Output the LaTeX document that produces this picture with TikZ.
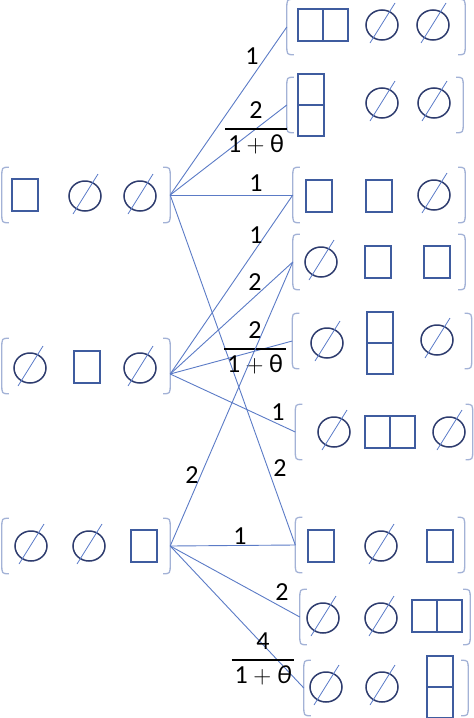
\documentclass[tikz,border=0pt]{standalone}
\usepackage{amsmath}
\usepackage{fontspec}
\setmainfont{Carlito}
\usetikzlibrary{positioning}
\definecolor{navy}{HTML}{2E3C6E}
\definecolor{slashblue}{HTML}{5A7BC8}
\definecolor{boxblue}{HTML}{3F5C9F}
\definecolor{brkgray}{HTML}{A3B2D6}
\definecolor{edgeblue}{HTML}{5B7BC6}
\newcommand\brk[1]{%
    \draw[bracket] ([xshift=7pt]#1.north west) .. controls (#1.north west) .. ([yshift=-10pt]#1.north west) -- ([yshift=10pt]#1.south west) .. controls (#1.south west) .. ([xshift=7pt]#1.south west);
    \draw[bracket] ([xshift=-7pt]#1.north east) .. controls (#1.north east) .. ([yshift=-10pt]#1.north east) -- ([yshift=10pt]#1.south east) .. controls (#1.south east) .. ([xshift=-7pt]#1.south east);}
\newcommand\wfrac[2]{\genfrac{}{}{1.6pt}{0}{\text{#1}}{\hspace{3pt}\text{1}+#2\hspace{3pt}}}

\begin{document}
\begin{tikzpicture}
[
    x=1pt, y=-1pt,
    state/.style={minimum width=#1, minimum height=55pt, inner sep=0pt},
    bracket/.style={draw=brkgray, line width=1.3pt},
    edge/.style={draw=edgeblue, line width=0.9pt},
    lbl/.style={inner sep=0pt, font=\fontsize{26}{30}\selectfont},
    nul/.pic={\draw[navy, line width=1.5pt] (0,0) ellipse [x radius=16pt, y radius=15pt];
              \draw[slashblue, line width=0.8pt] (-12,18) -- (13,-22);},
    box/.pic={\draw[boxblue, line width=1.6pt] (-13,-16) rectangle (13,16);},
    hdom/.pic={\draw[boxblue, line width=1.6pt] (-25,-16) rectangle (25,16) (0,-16) -- (0,16);},
    vdom/.pic={\draw[boxblue, line width=1.6pt] (-13,-31) rectangle (13,31) (-13,0) -- (13,0);},
]
    \useasboundingbox (0,0) rectangle (474,718);

    \node[state=168pt] (l1) at (86,195) {};
    \node[state=168pt] (l2) at (86,366) {};
    \node[state=168pt] (l3) at (86,546) {};
    \node[state=178pt] (r1) at (376,27) {};
    \node[state=176pt] (r2) at (375,105) {};
    \node[state=172pt] (r3) at (379,195) {};
    \node[state=172pt] (r4) at (379,262) {};
    \node[state=179pt] (r5) at (382,341) {};
    \node[state=177pt] (r6) at (384,432) {};
    \node[state=169pt] (r7) at (380,545) {};
    \node[state=170pt] (r8) at (385,617) {};
    \node[state=164pt] (r9) at (386,688) {};
    \foreach \s in {l1,l2,l3,r1,r2,r3,r4,r5,r6,r7,r8,r9} {\brk{\s}}

    \pic at (25,195) {box};
    \pic at (85,196) {nul};
    \pic at (140,196) {nul};
    \pic at (30,368) {nul};
    \pic at (87,367) {box};
    \pic at (140,368) {nul};
    \pic at (31,546) {nul};
    \pic at (89,546) {nul};
    \pic at (144,546) {box};

    \pic at (323,25) {hdom};
    \pic at (382,25) {nul};
    \pic at (433,25) {nul};
    \pic at (311,105) {vdom};
    \pic at (382,103) {nul};
    \pic at (434,103) {nul};
    \pic at (319,196) {box};
    \pic at (379,196) {box};
    \pic at (434,195) {nul};
    \pic at (321,262) {nul};
    \pic at (378,262) {box};
    \pic at (437,262) {box};
    \pic at (327,343) {nul};
    \pic at (380,343) {vdom};
    \pic at (437,340) {nul};
    \pic at (334,432) {nul};
    \pic at (390,432) {hdom};
    \pic at (449,432) {nul};
    \pic at (321,546) {box};
    \pic at (381,546) {nul};
    \pic at (440,546) {box};
    \pic at (323,618) {nul};
    \pic at (381,618) {nul};
    \pic at (437,616) {hdom};
    \pic at (326,687) {nul};
    \pic at (382,687) {nul};
    \pic at (440,687) {vdom};

    \draw[edge] (l1.east) -- (r1.west) node[lbl] at (252,56) {1};
    \draw[edge] (l1.east) -- (r2.west) node[lbl] at (256,128) {$\wfrac{2}{\text{θ}}$};
    \draw[edge] (l1.east) -- (r3.west) node[lbl] at (256,183) {1};
    \draw[edge] (l1.east) -- (r7.west) node[lbl] at (280,468) {2};
    \draw[edge] ([yshift=-8pt]l2.east) -- (r3.west) node[lbl] at (256,235) {1};
    \draw[edge] ([yshift=-8pt]l2.east) -- (r4.west) node[lbl] at (255,282) {2};
    \draw[edge] ([yshift=-8pt]l2.east) -- (r5.west) node[lbl] at (255,348) {$\wfrac{2}{\text{θ}}$};
    \draw[edge] ([yshift=-8pt]l2.east) -- (r6.west) node[lbl] at (278,412) {1};
    \draw[edge] (l3.east) -- (r4.west) node[lbl] at (192,475) {2};
    \draw[edge] (l3.east) -- (r7.west) node[lbl] at (240,536) {1};
    \draw[edge] (l3.east) -- (r8.west) node[lbl] at (282,592) {2};
    \draw[edge] (l3.east) -- (r9.west) node[lbl] at (263,659) {$\wfrac{4}{\textit{θ}}$};
\end{tikzpicture}
\end{document}
